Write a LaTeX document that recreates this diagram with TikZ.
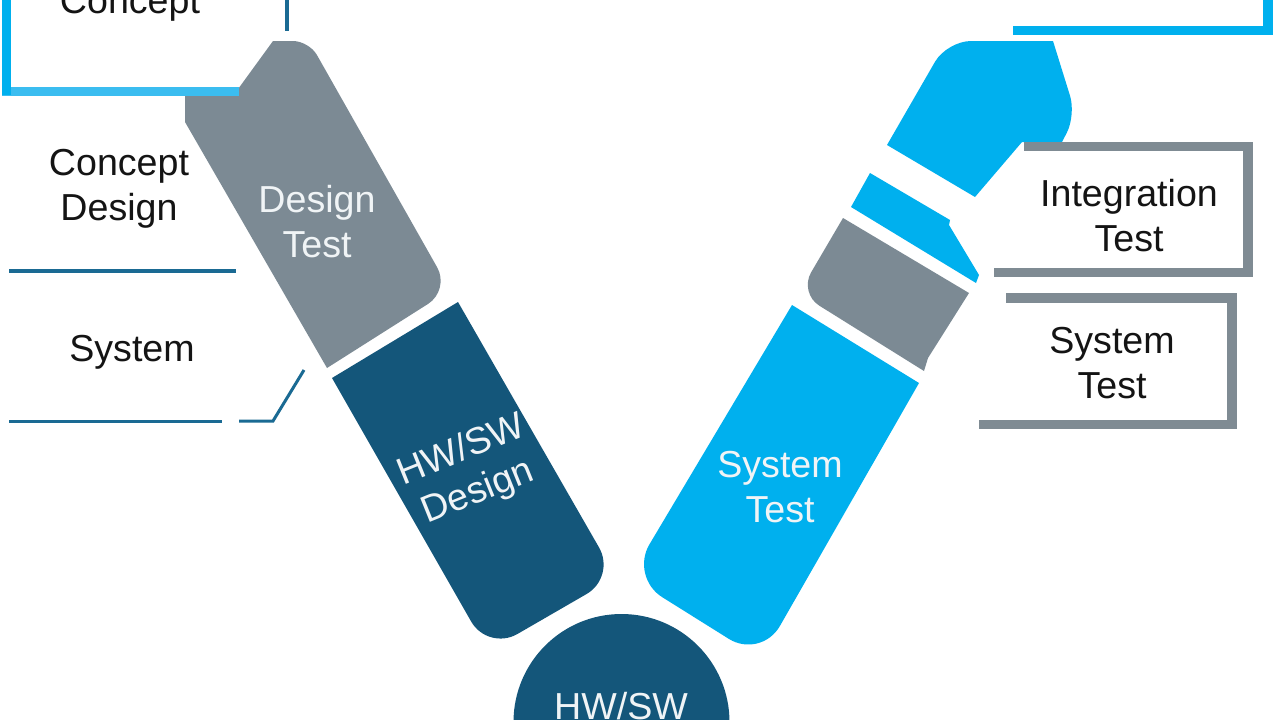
\documentclass[tikz,border=0pt]{standalone}
\usepackage{fontspec}
\setmainfont{Liberation Sans}
\definecolor{grayc}{HTML}{7C8A94}
\definecolor{darkc}{HTML}{14567A}
\definecolor{skyc}{HTML}{00B0EE}
\definecolor{lightsky}{HTML}{3BBDF0}
\definecolor{linec}{HTML}{1A6A93}
\definecolor{boxgray}{HTML}{7F8B93}
\definecolor{softwhite}{HTML}{F0F4F6}
\tikzset{
  label/.style={font=\fontsize{37.6}{45}\selectfont, align=center, text=black!92, inner sep=0pt, anchor=center},
  wlabel/.style={label, text=softwhite},
  thinline/.style={draw=linec, line cap=butt, line join=miter},
  boxline/.style={draw=boxgray, line width=9.5pt, line join=miter},
  skyline/.style={draw=skyc, line width=9.5pt, line join=miter},
}
\begin{document}
\begin{tikzpicture}[x=1pt,y=-1pt]
\useasboundingbox (0,0) rectangle (1280,720);
\clip (0,0) rectangle (1280,720);
\fill[white] (0,0) rectangle (1280,720);
% left arm
\fill[grayc] (185,96) -- (233,96) -- (273,41) [rounded corners=16pt] -- (309,41) [sharp corners] [rounded corners=26pt] -- (450,290) [sharp corners] -- (327,368) -- (185,122) -- cycle;
\fill[darkc] (458,302) [rounded corners=34pt] -- (616,577) -- (488,651) [sharp corners] -- (332,378) -- cycle;
% right arm
\fill[skyc] (792,305) -- (919,383) [rounded corners=38pt] -- (761,659) -- (630,577) [sharp corners] -- cycle;
\fill[grayc] (843,218) -- (969,293) -- (928,358) -- (924,371) [rounded corners=24pt] -- (799,293) [sharp corners] -- cycle;
\fill[skyc] (870,173) -- (950,220) -- (949,225) -- (979,275) -- (976,283) -- (851,207) -- cycle;
\fill[skyc] (887,145) [rounded corners=24pt] -- (947,41) [sharp corners] -- (1053,41) [rounded corners=20pt] -- (1076,115) [sharp corners] -- (1062,142) -- (1022,142) -- (975,197) -- cycle;
% circle
\fill[darkc] (621.5,722) circle (108);
% top left box
\draw[draw=lightsky, line width=9pt] (6,0) -- (6,91.5) -- (239,91.5);
\draw[draw=skyc, line width=9pt] (6,0) -- (6,95);
\draw[draw=linec, line width=4pt] (287,0) -- (287,31);
% top right box
\draw[skyline] (1013,30.5) -- (1268,30.5) -- (1268,0);
% gray boxes
\draw[boxline] (1024,146.5) -- (1248,146.5) -- (1248,272.5) -- (994,272.5);
\draw[boxline] (1006,298) -- (1232,298) -- (1232,424.5) -- (979,424.5);
% left lines
\draw[thinline, line width=4pt] (9,271) -- (236,271);
\draw[thinline, line width=3pt] (9,421) -- (222,421);
\draw[thinline, line width=3pt] (239,421) -- (273,421) -- (304,370);
% labels
\node[label] (concept) at (130,4) {Concept};
\node[label] (conceptdesign) at (119,189) {Concept\\Design};
\node[label] (system) at (132,352) {System};
\node[wlabel] (designtest) at (317,222) {Design\\Test};
\node[wlabel, rotate=22] (hwswdesign) at (470,472) {HW/SW\\Design};
\node[wlabel] (systemtest) at (780,487) {System\\Test};
\node[label] (integration) at (1129,215.5) {Integration\\Test};
\node[label] (systest) at (1112,363) {System\\Test};
\node[wlabel] (hwsw) at (621,706) {HW/SW};
\end{tikzpicture}
\end{document}
